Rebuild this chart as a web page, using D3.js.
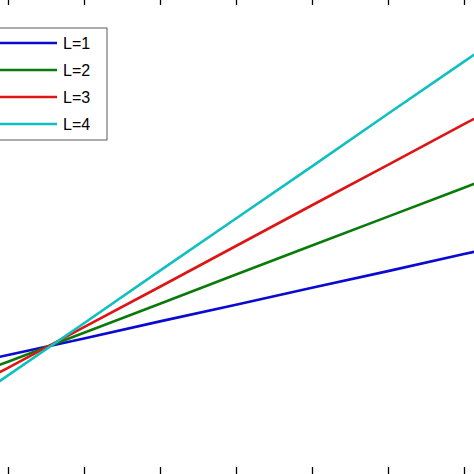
<!DOCTYPE html><html><head><meta charset="utf-8">
<script src="https://cdn.jsdelivr.net/npm/d3@7"></script>
<style>body{margin:0;background:#fff}</style></head><body><svg id="c" width="474" height="474"></svg>
<script>
const xVals=[-0.2,0,1,2,3,4,5,6,6.2];
const seriesNames=["L=1","L=2","L=3","L=4"];
const l1=[24.4,25.1,28.6,32.2,35.7,39.3,42.8,46.4,47.1];
const l2=[22.5,23.7,29.8,35.9,42.1,48.2,54.3,60.4,61.6];
const l3=[20.7,22.4,31.0,39.5,48.1,56.7,65.2,73.8,75.5];
const l4=[18.6,20.8,31.8,42.9,53.9,64.9,76.0,87.0,89.2];
const xTicks=[0,1,2,3,4,5,6];
const colors=["#0a0ad0","#0a7a0a","#dd1515","#10c0c0"];
const svg=d3.select("#c");
const x=d3.scaleLinear().domain([0,6]).range([8,464]);
const y=d3.scaleLinear().domain([0,100]).range([474,0]);
svg.append("defs").append("clipPath").attr("id","cl").append("rect").attr("width",474).attr("height",474);
const g=svg.append("g").attr("clip-path","url(#cl)");
const line=d3.line().x((d,i)=>x(xVals[i])).y(d=>y(d));
[l1,l2,l3,l4].forEach((s,i)=>g.append("path").attr("d",line(s)).attr("fill","none").attr("stroke",colors[i]).attr("stroke-width",2.6));
g.append("g").attr("transform","translate(0,0)").call(d3.axisTop(x).tickValues(xTicks).tickSize(-5).tickFormat("")).call(a=>a.select(".domain").remove());
g.append("g").attr("transform","translate(0,474)").call(d3.axisBottom(x).tickValues(xTicks).tickSize(-7).tickFormat("")).call(a=>a.select(".domain").remove());
g.selectAll(".tick line").attr("stroke","#000").attr("stroke-width",1.3);
const lg=g.append("g");
lg.append("rect").attr("x",-2).attr("y",28).attr("width",109).attr("height",112).attr("fill","#fff").attr("stroke","#333").attr("stroke-width",0.8);
seriesNames.forEach((n,i)=>{const yy=43+i*27;
lg.append("line").attr("x1",0).attr("x2",57).attr("y1",yy).attr("y2",yy).attr("stroke",colors[i]).attr("stroke-width",2.6);
lg.append("text").attr("x",63).attr("y",yy+6).text(n).attr("font-family","Liberation Sans, Arial, sans-serif").attr("font-size",16).attr("fill","#000");});
</script></body></html>
